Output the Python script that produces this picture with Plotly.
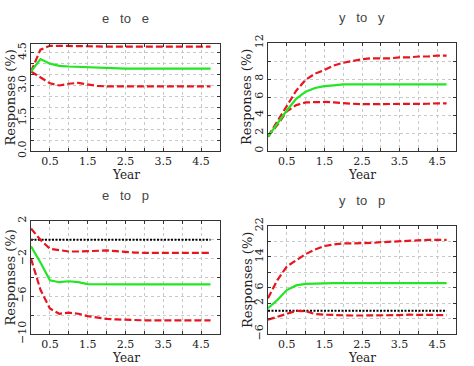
import plotly.graph_objects as go

# ---------------- data ----------------
years = [0, 0.25, 0.5, 0.75, 1.0, 1.25, 1.5, 1.75, 2.0, 2.25,
         2.5, 2.75, 3.0, 3.25, 3.5, 3.75, 4.0, 4.25, 4.5, 4.75]

titles = ["e\u00a0\u00a0 to\u00a0\u00a0 e", "y\u00a0\u00a0 to\u00a0\u00a0 y",
          "e\u00a0\u00a0 to\u00a0\u00a0 p", "y\u00a0\u00a0 to\u00a0\u00a0 p"]

ee_mid = [3.64, 4.21, 4.0, 3.9, 3.87, 3.85, 3.83, 3.8, 3.78, 3.77,
          3.77, 3.77, 3.77, 3.77, 3.77, 3.77, 3.77, 3.77, 3.77, 3.77]
ee_hi = [3.64, 4.64, 4.82, 4.82, 4.81, 4.81, 4.8, 4.79, 4.78, 4.78,
         4.78, 4.78, 4.78, 4.78, 4.78, 4.78, 4.78, 4.78, 4.78, 4.78]
ee_lo = [3.64, 3.38, 3.1, 3.0, 3.08, 3.12, 3.05, 2.98, 2.96, 2.96,
         2.96, 2.96, 2.96, 2.96, 2.96, 2.96, 2.96, 2.96, 2.96, 2.96]

yy_mid = [1.6, 3.1, 4.5, 5.8, 6.6, 7.0, 7.2, 7.3, 7.4, 7.4,
          7.4, 7.4, 7.4, 7.4, 7.4, 7.4, 7.4, 7.4, 7.4, 7.4]
yy_hi = [1.6, 3.3, 5.1, 6.7, 7.9, 8.6, 9.0, 9.5, 9.8, 10.0,
         10.2, 10.3, 10.3, 10.3, 10.4, 10.4, 10.5, 10.5, 10.6, 10.6]
yy_lo = [1.6, 2.9, 4.4, 5.1, 5.4, 5.45, 5.45, 5.4, 5.3, 5.25,
         5.2, 5.2, 5.2, 5.2, 5.2, 5.2, 5.25, 5.25, 5.3, 5.3]

ep_mid = [-0.7, -2.4, -4.3, -4.5, -4.4, -4.5, -4.7, -4.72, -4.73, -4.73,
          -4.73, -4.73, -4.73, -4.73, -4.73, -4.73, -4.73, -4.73, -4.73, -4.73]
ep_hi = [1.2, 0.0, -0.95, -1.13, -1.24, -1.24, -1.22, -1.18, -1.13, -1.2,
         -1.3, -1.35, -1.38, -1.38, -1.38, -1.38, -1.38, -1.38, -1.38, -1.38]
ep_lo = [-2.0, -5.3, -7.3, -7.85, -7.74, -7.85, -8.1, -8.25, -8.4, -8.45,
         -8.5, -8.55, -8.55, -8.55, -8.55, -8.55, -8.55, -8.55, -8.55, -8.55]

yp_mid = [0.7, 2.8, 5.4, 6.6, 7.0, 7.1, 7.2, 7.2, 7.2, 7.2,
          7.2, 7.2, 7.2, 7.2, 7.2, 7.2, 7.2, 7.2, 7.2, 7.2]
yp_hi = [3.3, 8.0, 11.5, 13.2, 14.7, 15.9, 16.8, 17.2, 17.5, 17.5,
         17.5, 17.6, 17.8, 17.9, 18.1, 18.2, 18.4, 18.4, 18.4, 18.4]
yp_lo = [-2.3, -1.5, -0.6, 0.0, -0.1, -0.8, -1.0, -1.1, -1.2, -1.2,
         -1.2, -1.2, -1.1, -1.1, -1.1, -1.0, -1.0, -1.0, -1.1, -1.1]

zero_line = [0.0] * len(years)

x_ticks = [0.5, 1.0, 1.5, 2.0, 2.5, 3.0, 3.5, 4.0, 4.5]
x_text = ["0.5", "", "1.5", "", "2.5", "", "3.5", "", "4.5"]

ee_ticks = [0.0, 0.5, 1.0, 1.5, 2.0, 2.5, 3.0, 3.5, 4.0, 4.5]
ee_text = ["0.0", "", "", "1.5", "", "", "3.0", "", "", "4.5"]
yy_ticks = [0, 2, 4, 6, 8, 10, 12]
yy_text = ["0", "2", "4", "6", "8", "", "12"]
ep_ticks = [-10, -8, -6, -4, -2, 0, 2]
ep_text = ["\u221210", "", "\u22126", "", "\u22122", "", "2"]
yp_ticks = [-6, -2, 2, 6, 10, 14, 18, 22]
yp_text = ["\u22126", "", "2", "6", "", "14", "", "22"]

panels = [
    dict(mid=ee_mid, hi=ee_hi, lo=ee_lo, zero=False, yr=[0, 4.9], yt=ee_ticks, ytx=ee_text),
    dict(mid=yy_mid, hi=yy_hi, lo=yy_lo, zero=False, yr=[0, 12], yt=yy_ticks, ytx=yy_text),
    dict(mid=ep_mid, hi=ep_hi, lo=ep_lo, zero=True, yr=[-10, 2], yt=ep_ticks, ytx=ep_text),
    dict(mid=yp_mid, hi=yp_hi, lo=yp_lo, zero=True, yr=[-6, 22], yt=yp_ticks, ytx=yp_text),
]

# ---------------- layout geometry (pixels) ----------------
W, H = 474, 366
boxes = [(31, 220, 44, 151), (268, 456, 43, 151), (31, 220, 221, 334), (268, 456, 226, 334)]

SERIF = "DejaVu Serif"
GREEN = "#22e622"
RED = "#e8141e"

fig = go.Figure()
layout = dict(width=W, height=H, margin=dict(l=0, r=0, t=0, b=0, autoexpand=False),
              paper_bgcolor="white", plot_bgcolor="white", showlegend=False)
annotations = []

for i, (p, box) in enumerate(zip(panels, boxes)):
    n = i + 1
    xa = "x" if n == 1 else f"x{n}"
    ya = "y" if n == 1 else f"y{n}"
    x0, x1, y0, y1 = box
    common = dict(showline=True, linecolor="#333", linewidth=1.2, mirror="ticks",
                  ticks="inside", ticklen=3, tickcolor="#333", automargin=False,
                  showgrid=True, gridcolor="#c8c8c8", griddash="dot", gridwidth=1,
                  zeroline=False, tickfont=dict(family=SERIF, size=11, color="#222"))
    layout[f"xaxis{'' if n == 1 else n}"] = dict(
        domain=[x0 / W, x1 / W], anchor=ya, range=[0, 5],
        tickmode="array", tickvals=x_ticks, ticktext=x_text, ticklabelstandoff=0, **common)
    layout[f"yaxis{'' if n == 1 else n}"] = dict(
        domain=[1 - y1 / H, 1 - y0 / H], anchor=xa, range=p["yr"],
        tickmode="array", tickvals=p["yt"], ticktext=p["ytx"], tickangle=-90, **common)

    if p["zero"]:
        fig.add_trace(go.Scatter(x=years, y=zero_line, mode="lines", xaxis=xa, yaxis=ya,
                                 line=dict(color="black", width=2, dash="2px,1.5px")))
    fig.add_trace(go.Scatter(x=years, y=p["hi"], mode="lines", xaxis=xa, yaxis=ya,
                             line=dict(color=RED, width=2.2, dash="7px,3px")))
    fig.add_trace(go.Scatter(x=years, y=p["lo"], mode="lines", xaxis=xa, yaxis=ya,
                             line=dict(color=RED, width=2.2, dash="7px,3px")))
    fig.add_trace(go.Scatter(x=years, y=p["mid"], mode="lines", xaxis=xa, yaxis=ya,
                             line=dict(color=GREEN, width=2.2)))

    cx = (x0 + x1) / 2
    annotations.append(dict(text=titles[i], x=cx / W, y=1 - (y0 - 26) / H, xref="paper", yref="paper",
                            xanchor="center", yanchor="middle", showarrow=False,
                            font=dict(family="Liberation Sans", size=13, color="#444")))
    annotations.append(dict(text="Year", x=cx / W, y=1 - (y1 + 24) / H, xref="paper", yref="paper",
                            xanchor="center", yanchor="middle", showarrow=False,
                            font=dict(family=SERIF, size=12, color="#222")))
    annotations.append(dict(text="Responses (%)", x=(x0 - 21) / W, y=1 - ((y0 + y1) / 2) / H,
                            xref="paper", yref="paper", xanchor="center", yanchor="middle",
                            textangle=-90, showarrow=False,
                            font=dict(family=SERIF, size=13, color="#222")))

layout["annotations"] = annotations
fig.update_layout(**layout)
fig.write_html("out.html", config={"displayModeBar": False},
               post_script="document.body.style.margin='0';document.body.style.overflow='hidden';")
